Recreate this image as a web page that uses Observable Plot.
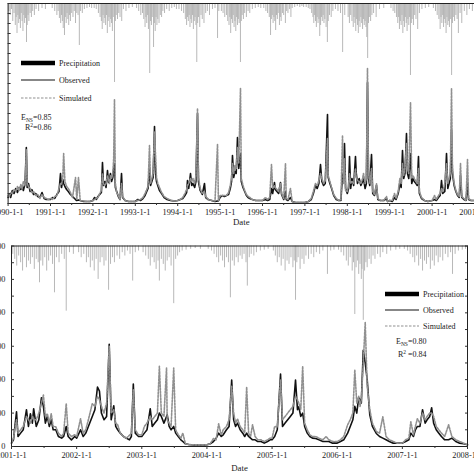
<!DOCTYPE html>
<html><head><meta charset="utf-8">
<script src="https://cdn.jsdelivr.net/npm/d3@7"></script>
<script src="https://cdn.jsdelivr.net/npm/@observablehq/plot@0.6"></script>
<style>
html,body{margin:0;padding:0;background:#fff;overflow:hidden}
#wrap{position:relative;width:474px;height:474px;overflow:hidden;background:#fff}
.layer{position:absolute;left:0}
</style></head><body>
<div id="wrap"></div>
<script>
// ---------------- Panel 1 (1990-2001) ----------------
const years1 = [1990,1991,1992,1993,1994,1995,1996,1997,1998,1999,2000,2001];
const dates1 = [
1990.00,1990.03,1990.06,1990.10,1990.14,1990.18,1990.22,1990.26,1990.30,1990.33,1990.36,1990.40,1990.43,1990.45,1990.48,1990.52,1990.56,1990.60,1990.65,1990.70,1990.75,1990.80,1990.85,1990.90,1990.95,
1991.00,1991.05,1991.10,1991.15,1991.20,1991.236,1991.26,1991.29,1991.31,1991.34,1991.38,1991.42,1991.47,1991.52,1991.59,1991.62,1991.66,1991.70,1991.78,1991.86,1991.93,
1992.00,1992.04,1992.08,1992.12,1992.16,1992.20,1992.226,1992.25,1992.28,1992.31,1992.344,1992.37,1992.39,1992.415,1992.44,1992.47,1992.49,1992.509,1992.53,1992.56,1992.60,1992.64,1992.675,1992.70,1992.76,1992.84,1992.92,
1993.00,1993.06,1993.12,1993.18,1993.23,1993.27,1993.30,1993.335,1993.36,1993.39,1993.42,1993.453,1993.476,1993.50,1993.53,1993.57,1993.62,1993.68,1993.75,1993.83,1993.92,
1994.00,1994.06,1994.12,1994.17,1994.21,1994.231,1994.26,1994.302,1994.33,1994.36,1994.40,1994.43,1994.467,1994.49,1994.53,1994.58,1994.632,1994.66,1994.72,1994.80,1994.88,1994.939,1994.96,
1995.00,1995.05,1995.10,1995.15,1995.20,1995.24,1995.27,1995.292,1995.32,1995.35,1995.38,1995.41,1995.44,1995.481,1995.50,1995.54,1995.58,1995.62,1995.66,1995.70,1995.76,1995.84,1995.92,
1996.00,1996.07,1996.12,1996.17,1996.212,1996.24,1996.283,1996.30,1996.34,1996.38,1996.425,1996.45,1996.50,1996.542,1996.56,1996.60,1996.66,1996.70,1996.78,1996.86,1996.93,
1997.00,1997.08,1997.15,1997.20,1997.25,1997.29,1997.33,1997.368,1997.40,1997.44,1997.48,1997.533,1997.55,1997.59,1997.63,1997.68,1997.74,1997.80,1997.85,1997.887,1997.91,1997.934,1997.96,
1998.00,1998.03,1998.052,1998.08,1998.11,1998.15,1998.193,1998.21,1998.24,1998.28,1998.32,1998.36,1998.382,1998.42,1998.45,1998.476,1998.50,1998.53,1998.571,1998.60,1998.64,1998.689,1998.72,1998.78,1998.86,1998.925,1998.95,
1999.00,1999.06,1999.113,1999.15,1999.20,1999.24,1999.27,1999.302,1999.33,1999.36,1999.396,1999.42,1999.45,1999.491,1999.52,1999.55,1999.58,1999.62,1999.65,1999.679,1999.70,1999.75,1999.82,1999.90,
2000.00,2000.057,2000.10,2000.15,2000.19,2000.222,2000.25,2000.30,2000.34,2000.37,2000.40,2000.43,2000.458,2000.48,2000.52,2000.56,2000.60,2000.64,2000.67,2000.70,2000.75,2000.80,2000.835,2000.86,2000.92,2000.97,2001.00];
const obs1 = [
60,90,60,130,100,150,110,160,140,180,130,200,560,160,200,120,140,90,100,70,60,110,50,40,40,
40,60,50,90,120,300,160,240,200,170,140,120,90,70,40,30,35,30,20,20,20,
30,60,40,70,90,110,410,180,220,160,330,210,250,300,220,260,350,400,160,120,70,40,300,60,30,20,20,
20,40,30,50,80,120,150,350,180,220,260,770,300,220,180,130,100,60,40,30,25,
30,40,50,80,110,230,150,300,180,200,160,220,900,220,130,90,200,60,40,30,20,25,25,
60,80,70,80,90,150,220,480,260,320,300,660,350,500,220,160,120,80,60,50,40,30,30,
30,40,30,40,150,100,210,140,120,100,210,90,40,120,40,30,60,20,10,10,10,
10,20,40,100,180,150,200,390,220,180,200,890,260,200,150,80,40,30,30,300,250,600,150,
100,150,470,150,250,180,470,310,200,250,180,220,250,150,200,1210,250,180,490,100,80,180,40,30,30,50,20,
30,20,60,40,100,200,160,530,250,300,700,300,250,500,200,250,220,200,180,470,100,50,30,20,
30,40,30,60,80,230,100,120,500,150,200,250,730,300,180,120,80,60,280,60,40,30,200,40,30,30,30];
const sim1 = [
80,70,110,100,140,120,170,130,190,150,220,180,540,200,170,150,110,120,80,90,50,90,60,50,40,
50,40,70,80,150,200,190,260,500,220,170,150,110,60,260,40,260,30,25,20,20,
30,40,50,60,100,130,300,200,180,200,280,240,200,280,250,300,450,1040,200,110,80,40,200,70,30,20,20,
20,30,40,60,100,140,170,580,200,250,300,720,500,260,200,160,110,70,50,35,25,
30,40,60,100,140,180,200,250,220,250,200,280,950,260,150,100,120,70,40,30,25,590,30,
80,80,80,80,110,180,260,400,300,380,350,560,400,1150,250,180,130,90,70,60,40,30,30,
30,60,40,60,390,150,180,160,140,120,200,100,50,400,50,40,150,20,10,10,10,
10,20,50,120,200,180,230,300,250,200,230,650,280,220,160,90,50,30,40,680,200,450,130,
120,180,300,200,220,200,350,260,230,220,200,250,300,200,250,1350,300,200,350,120,90,200,50,30,30,70,20,
30,30,100,50,120,250,200,400,280,350,600,350,300,1010,250,280,250,220,200,350,120,60,30,20,
30,80,40,80,100,150,120,200,400,200,250,300,1150,350,200,130,90,70,400,70,50,30,440,50,30,30,30];
const pDates1 = [
1990.02,1990.05,1990.08,1990.11,1990.14,1990.17,1990.19,1990.21,1990.23,1990.25,1990.27,1990.29,1990.31,1990.33,1990.35,1990.37,1990.39,1990.41,1990.434,1990.45,1990.47,1990.49,1990.52,1990.55,1990.58,1990.62,1990.66,1990.72,1990.80,1990.88,
1991.04,1991.10,1991.15,1991.18,1991.21,1991.24,1991.26,1991.28,1991.30,1991.33,1991.35,1991.37,1991.39,1991.41,1991.43,1991.45,1991.47,1991.50,1991.53,1991.56,1991.59,1991.62,1991.65,1991.68,1991.71,1991.75,1991.80,1991.86,1991.92,1991.97,
1992.03,1992.08,1992.13,1992.17,1992.20,1992.22,1992.24,1992.26,1992.28,1992.30,1992.32,1992.34,1992.36,1992.38,1992.40,1992.42,1992.44,1992.46,1992.48,1992.51,1992.53,1992.55,1992.58,1992.61,1992.64,1992.68,1992.72,1992.78,1992.85,1992.93,
1993.03,1993.08,1993.13,1993.17,1993.20,1993.23,1993.25,1993.27,1993.29,1993.31,1993.34,1993.36,1993.38,1993.40,1993.43,1993.45,1993.47,1993.49,1993.51,1993.53,1993.56,1993.59,1993.62,1993.65,1993.69,1993.74,1993.80,1993.86,1993.92,1993.97,
1994.03,1994.09,1994.14,1994.18,1994.21,1994.23,1994.25,1994.27,1994.29,1994.31,1994.33,1994.35,1994.37,1994.39,1994.41,1994.43,1994.45,1994.47,1994.49,1994.52,1994.55,1994.58,1994.62,1994.66,1994.70,1994.75,1994.82,1994.88,1994.94,1994.97,
1995.03,1995.07,1995.11,1995.15,1995.18,1995.21,1995.23,1995.25,1995.27,1995.29,1995.31,1995.33,1995.35,1995.37,1995.39,1995.41,1995.43,1995.45,1995.48,1995.50,1995.52,1995.55,1995.58,1995.62,1995.66,1995.70,1995.76,1995.83,1995.90,1995.96,
1996.03,1996.08,1996.12,1996.16,1996.19,1996.21,1996.23,1996.25,1996.27,1996.29,1996.31,1996.33,1996.35,1996.37,1996.40,1996.42,1996.44,1996.47,1996.50,1996.54,1996.57,1996.60,1996.64,1996.67,1996.70,1996.76,1996.82,1996.88,1996.93,1996.97,
1997.03,1997.08,1997.12,1997.16,1997.19,1997.21,1997.23,1997.25,1997.27,1997.29,1997.31,1997.33,1997.35,1997.37,1997.39,1997.41,1997.43,1997.45,1997.47,1997.50,1997.53,1997.55,1997.58,1997.62,1997.66,1997.72,1997.78,1997.84,1997.89,1997.94,
1998.02,1998.05,1998.08,1998.11,1998.14,1998.16,1998.18,1998.20,1998.22,1998.24,1998.26,1998.28,1998.30,1998.32,1998.34,1998.36,1998.38,1998.40,1998.42,1998.44,1998.46,1998.48,1998.50,1998.52,1998.55,1998.58,1998.62,1998.68,1998.76,1998.86,
1999.03,1999.08,1999.12,1999.16,1999.19,1999.21,1999.23,1999.25,1999.27,1999.29,1999.31,1999.33,1999.35,1999.37,1999.39,1999.41,1999.43,1999.45,1999.47,1999.49,1999.51,1999.53,1999.56,1999.59,1999.62,1999.66,1999.70,1999.76,1999.84,1999.92,
2000.03,2000.08,2000.12,2000.16,2000.19,2000.21,2000.23,2000.25,2000.27,2000.29,2000.31,2000.33,2000.35,2000.37,2000.39,2000.41,2000.43,2000.46,2000.48,2000.50,2000.53,2000.56,2000.59,2000.62,2000.66,2000.70,2000.76,2000.82,2000.88,2000.95];
const precip1 = [
8,12,6,18,10,22,14,30,12,20,16,25,10,18,28,12,20,15,39,22,12,18,10,14,8,12,6,8,5,6,
5,8,12,8,15,20,12,18,25,32,14,20,10,16,22,12,18,10,14,8,20,10,12,42,8,10,6,5,4,5,
5,6,10,14,18,26,12,20,15,22,12,30,18,14,24,16,20,28,14,79,18,12,16,10,14,18,6,8,5,4,
5,8,12,10,16,24,14,20,12,26,70,18,22,14,44,20,28,14,22,16,20,12,14,8,10,6,8,5,4,6,
6,8,10,16,22,14,18,12,24,16,20,12,26,18,14,22,59,20,14,24,12,16,20,10,8,12,6,5,35,8,
8,10,14,12,18,22,14,30,16,20,12,24,18,28,14,22,16,20,59,18,12,16,10,14,8,10,6,5,4,5,
5,8,10,14,32,16,12,20,14,18,27,12,16,10,22,14,18,10,12,20,8,10,6,14,5,4,3,4,3,4,
4,5,6,10,14,20,12,18,24,14,20,16,33,22,14,18,12,20,16,24,39,18,12,14,8,6,8,10,49,12,
14,20,12,18,24,14,20,28,16,22,30,18,24,14,20,26,16,22,18,24,34,55,20,14,18,12,10,14,6,5,
5,8,10,14,20,14,26,18,22,12,30,18,24,14,20,28,16,22,14,72,20,16,22,12,16,26,10,6,5,4,
5,8,12,16,26,14,20,12,24,16,20,30,14,22,18,24,16,72,20,14,18,12,16,30,10,20,8,12,6,8];

// ---------------- Panel 2 (2001-2008) ----------------
const years2 = [2001,2002,2003,2004,2005,2006,2007,2008];
const dates2 = [
2001.00,2001.03,2001.077,2001.10,2001.14,2001.18,2001.23,2001.26,2001.29,2001.32,2001.34,2001.38,2001.42,2001.46,2001.49,2001.52,2001.55,2001.58,2001.61,2001.64,2001.68,2001.72,2001.77,2001.80,2001.84,2001.87,2001.92,2001.97,
2002.00,2002.06,2002.10,2002.14,2002.18,2002.24,2002.28,2002.32,2002.35,2002.38,2002.42,2002.46,2002.50,2002.53,2002.57,2002.60,2002.63,2002.67,2002.72,2002.76,2002.81,2002.84,2002.87,2002.90,2002.95,
2003.00,2003.04,2003.08,2003.13,2003.16,2003.20,2003.24,2003.27,2003.30,2003.34,2003.38,2003.39,2003.42,2003.45,2003.49,2003.52,2003.56,2003.60,2003.63,2003.67,2003.72,2003.80,2003.88,2003.95,
2004.00,2004.05,2004.10,2004.14,2004.18,2004.22,2004.25,2004.30,2004.34,2004.38,2004.41,2004.44,2004.47,2004.51,2004.55,2004.58,2004.61,2004.64,2004.67,2004.70,2004.74,2004.78,2004.83,2004.88,2004.93,2004.97,
2005.00,2005.04,2005.08,2005.13,2005.16,2005.20,2005.24,2005.28,2005.32,2005.36,2005.39,2005.41,2005.44,2005.47,2005.50,2005.54,2005.58,2005.62,2005.67,2005.72,2005.78,2005.83,2005.87,2005.93,2005.97,
2006.00,2006.05,2006.10,2006.16,2006.20,2006.24,2006.27,2006.30,2006.33,2006.35,2006.37,2006.40,2006.43,2006.46,2006.50,2006.54,2006.60,2006.65,2006.70,2006.75,2006.80,2006.86,2006.92,2006.97,
2007.00,2007.05,2007.10,2007.13,2007.17,2007.20,2007.23,2007.27,2007.31,2007.35,2007.38,2007.42,2007.45,2007.48,2007.52,2007.56,2007.60,2007.65,2007.71,2007.76,2007.82,2007.88,2007.94,2008.00];
const obs2 = [
10,20,104,30,40,50,110,60,98,70,113,60,80,146,120,70,90,60,80,50,50,30,25,30,60,30,20,30,
25,50,30,40,60,90,110,178,166,100,80,90,306,80,122,60,50,40,30,25,20,30,187,40,30,
30,40,50,113,60,70,80,100,90,70,90,95,60,50,60,40,30,20,15,8,6,5,5,5,
5,8,15,24,40,30,35,50,60,199,80,60,70,50,40,30,40,30,25,20,20,15,15,10,15,20,
20,30,50,217,60,70,80,90,100,199,110,119,90,100,60,40,30,25,24,20,15,15,15,10,10,
10,15,20,40,60,80,120,100,146,140,130,288,250,200,95,60,39,30,25,20,15,10,10,10,
10,15,20,40,30,50,60,60,110,70,80,90,116,70,50,40,30,20,20,25,15,10,8,5];
const sim2 = [
10,25,80,40,50,60,90,80,70,90,80,80,100,130,154,90,98,70,98,60,59,40,30,40,128,40,30,35,
30,83,40,50,80,128,120,150,140,120,100,130,300,100,110,70,65,40,30,25,33,40,170,50,35,
35,60,70,90,80,90,100,240,100,90,235,80,70,60,235,50,35,25,40,8,6,5,5,5,
5,8,24,20,68,35,50,60,80,180,100,70,83,60,50,40,178,40,30,65,30,20,20,15,20,25,
25,60,59,200,80,90,100,110,120,150,140,130,110,240,70,50,35,30,30,25,20,30,20,15,15,
15,20,30,65,80,100,229,130,150,120,140,250,371,180,110,70,45,40,89,30,20,15,10,10,
10,20,25,74,35,60,83,70,100,80,90,100,100,90,60,50,40,30,65,30,20,15,10,5];
const pDates2 = [
2001.02,2001.05,2001.08,2001.11,2001.14,2001.17,2001.20,2001.23,2001.26,2001.29,2001.32,2001.35,2001.38,2001.41,2001.43,2001.45,2001.48,2001.51,2001.54,2001.57,2001.60,2001.63,2001.66,2001.69,2001.73,2001.77,2001.81,2001.84,2001.89,2001.95,
2002.03,2002.07,2002.11,2002.15,2002.18,2002.21,2002.24,2002.27,2002.30,2002.33,2002.36,2002.39,2002.42,2002.45,2002.49,2002.52,2002.55,2002.58,2002.62,2002.66,2002.70,2002.74,2002.78,2002.82,2002.86,2002.90,2002.95,
2003.02,2003.06,2003.10,2003.13,2003.16,2003.19,2003.22,2003.25,2003.27,2003.30,2003.33,2003.36,2003.39,2003.42,2003.45,2003.49,2003.52,2003.55,2003.58,2003.62,2003.68,2003.75,2003.82,2003.90,
2004.02,2004.07,2004.11,2004.15,2004.18,2004.21,2004.24,2004.27,2004.30,2004.33,2004.36,2004.39,2004.42,2004.45,2004.48,2004.51,2004.54,2004.57,2004.60,2004.62,2004.65,2004.68,2004.72,2004.76,2004.82,2004.88,2004.94,
2005.02,2005.05,2005.08,2005.11,2005.14,2005.17,2005.20,2005.23,2005.26,2005.29,2005.32,2005.34,2005.36,2005.38,2005.40,2005.43,2005.46,2005.49,2005.52,2005.56,2005.60,2005.64,2005.68,2005.73,2005.78,2005.85,2005.90,2005.95,
2006.02,2006.06,2006.10,2006.14,2006.17,2006.20,2006.23,2006.25,2006.27,2006.29,2006.31,2006.33,2006.35,2006.37,2006.38,2006.40,2006.42,2006.44,2006.46,2006.49,2006.52,2006.55,2006.58,2006.62,2006.66,2006.70,2006.76,2006.82,2006.90,2006.96,
2007.03,2007.08,2007.12,2007.16,2007.19,2007.22,2007.25,2007.28,2007.31,2007.34,2007.37,2007.40,2007.43,2007.46,2007.49,2007.52,2007.55,2007.58,2007.62,2007.66,2007.70,2007.74,2007.77,2007.81,2007.86,2007.92,2007.97];
const precip2 = [
10,16,24,12,20,30,14,26,18,22,14,28,16,20,44,18,24,14,30,18,12,22,56,14,20,10,16,78,8,10,
8,14,10,20,14,26,18,30,16,40,20,14,24,18,53,22,14,20,12,16,8,12,6,10,42,8,6,
8,12,16,24,14,20,28,18,42,16,22,30,18,14,24,69,16,12,8,6,5,4,3,4,
4,6,10,14,20,12,18,26,14,20,62,18,24,14,20,12,16,10,20,48,14,10,12,8,6,5,4,
6,12,20,14,24,16,30,18,22,14,26,18,65,20,14,28,16,22,12,16,10,14,8,10,6,34,6,5,
5,8,12,18,24,14,30,20,82,26,18,34,22,40,28,89,30,20,26,16,22,12,16,10,14,8,10,6,5,4,
4,6,10,14,20,12,24,16,30,18,22,14,28,18,24,12,20,14,18,10,14,8,34,10,6,5,4];

// legend / annotation texts
const legendLabels = ["Precipitation", "Observed", "Simulated"];
const stats1 = ["0.85", "0.86"];
const stats2 = ["0.80", "0.84"];
const dischargeTicks1 = d3.range(0, 2001, 100);
const dischargeTicks2 = d3.range(0, 601, 50);
const dischargeLabels2 = [0, 100, 200, 300, 400, 500, 600];
const precipTicks2 = d3.range(0, 241, 20);

const FONT = '"Liberation Serif", "Times New Roman", serif';
const OBS = {stroke: "#111", strokeWidth: 1.6};
const SIM = {stroke: "#909090", strokeWidth: 1.6, strokeDasharray: "2,1.3"};
const wrap = document.getElementById("wrap");

function addLayer(node, top) {
  const d = document.createElement("div");
  d.className = "layer";
  d.style.top = top + "px";
  d.appendChild(node);
  wrap.appendChild(d);
}

function panel(cfg) {
  const common = {
    width: cfg.width, height: cfg.height,
    marginLeft: cfg.mL, marginRight: cfg.mR, marginTop: cfg.mT, marginBottom: cfg.mB,
    style: {background: "transparent", maxWidth: "none", overflow: "visible", fontFamily: FONT, fontSize: "8.3px", color: "#222"}
  };
  const pIdx = d3.range(Math.min(cfg.pDates.length, cfg.precip.length));
  const precipPlot = Plot.plot({
    ...common,
    x: {domain: cfg.xDomain, axis: null},
    y: {domain: [0, cfg.pMax], reverse: true, axis: null},
    marks: [
      Plot.ruleX(pIdx, {x: i => cfg.pDates[i], y1: 0, y2: i => cfg.precip[i], stroke: "#b0b0b0", strokeWidth: 0.9}),
      cfg.pTicks ? Plot.axisY({anchor: "right", ticks: cfg.pTicks, tickSize: -3, tickFormat: () => "", label: null, stroke: "#333"}) : null
    ]
  });
  const idx = d3.range(Math.min(cfg.dates.length, cfg.obs.length, cfg.sim.length));
  const halfYears = cfg.years.slice(0, -1).map(y => y + 0.5);
  const flowPlot = Plot.plot({
    ...common,
    x: {domain: cfg.xDomain},
    y: {domain: [0, cfg.yMax]},
    marks: [
      Plot.line(idx, {x: i => cfg.dates[i], y: i => cfg.obs[i], ...OBS}),
      Plot.line(idx, {x: i => cfg.dates[i], y: i => cfg.sim[i], ...SIM}),
      Plot.frame({stroke: "#222", strokeWidth: 1}),
      Plot.axisX({ticks: cfg.years, tickFormat: d => `${d}-1-1`, tickSize: 3, tickPadding: 3, label: null, stroke: "#333"}),
      Plot.axisX({ticks: halfYears, tickFormat: () => "", tickSize: 2, label: null, stroke: "#333"}),
      Plot.axisY({ticks: cfg.yTicks, tickSize: -3, tickPadding: 9, label: null, stroke: "#333",
                  tickFormat: d => (cfg.yLabels && cfg.yLabels.includes(d)) ? String(d) : ""}),
      Plot.text(["Date"], {text: d => d, frameAnchor: "bottom", dy: cfg.dateDy, fontSize: 8.8, fill: "#222"})
    ]
  });
  addLayer(precipPlot, cfg.top);
  addLayer(flowPlot, cfg.top);
}

panel({top: 0, width: 480, height: 237, mL: 7.6, mR: 6, mT: 3, mB: 34,
  xDomain: [1990, 2001], years: years1, dates: dates1, obs: obs1, sim: sim1,
  pDates: pDates1, precip: precip1, pMax: 200, pTicks: null,
  yMax: 2000, yTicks: dischargeTicks1, yLabels: null, dateDy: 21});

panel({top: 237, width: 474, height: 237, mL: 11, mR: 7, mT: 8.5, mB: 28,
  xDomain: [2001, 2008], years: years2, dates: dates2, obs: obs2, sim: sim2,
  pDates: pDates2, precip: precip2, pMax: 240, pTicks: precipTicks2,
  yMax: 600, yTicks: dischargeTicks2, yLabels: dischargeLabels2, dateDy: 24});

// legends drawn as an overlay
function legend(svg, x0, x1, ys, tx, stats, sx, sy, r2Space) {
  const g = svg.append("g").attr("font-family", FONT).attr("font-size", 8).attr("fill", "#222");
  g.append("line").attr("x1", x0).attr("x2", x1).attr("y1", ys[0]).attr("y2", ys[0]).attr("stroke", "#000").attr("stroke-width", 4.5);
  g.append("line").attr("x1", x0).attr("x2", x1).attr("y1", ys[1]).attr("y2", ys[1]).attr("stroke", OBS.stroke).attr("stroke-width", 1.2);
  g.append("line").attr("x1", x0).attr("x2", x1).attr("y1", ys[2]).attr("y2", ys[2]).attr("stroke", SIM.stroke).attr("stroke-width", 1.2).attr("stroke-dasharray", "2.5,1.5");
  legendLabels.forEach((t, i) => g.append("text").attr("x", tx).attr("y", ys[i]).attr("dy", "0.32em").text(t));
  const e = g.append("text").attr("x", sx[0]).attr("y", sy[0]).attr("dy", "0.32em");
  e.append("tspan").text("E");
  e.append("tspan").attr("font-size", 5.5).attr("dy", 2).text("NS");
  e.append("tspan").attr("dy", -2).text("=" + stats[0]);
  const r = g.append("text").attr("x", sx[1]).attr("y", sy[1]).attr("dy", "0.32em");
  r.append("tspan").text("R");
  r.append("tspan").attr("font-size", 5.5).attr("dy", -3).text("2");
  r.append("tspan").attr("dy", 3).text((r2Space ? " " : "") + "=" + stats[1]);
}
const ov = d3.create("svg").attr("width", 474).attr("height", 474).style("display", "block");
legend(ov, 21, 55, [63, 80, 98], 59, stats1, [21, 25], [117, 127], false);
legend(ov, 385, 419, [294, 310, 326], 423, stats2, [396, 398], [341, 354], true);
addLayer(ov.node(), 0);
</script>
</body></html>
